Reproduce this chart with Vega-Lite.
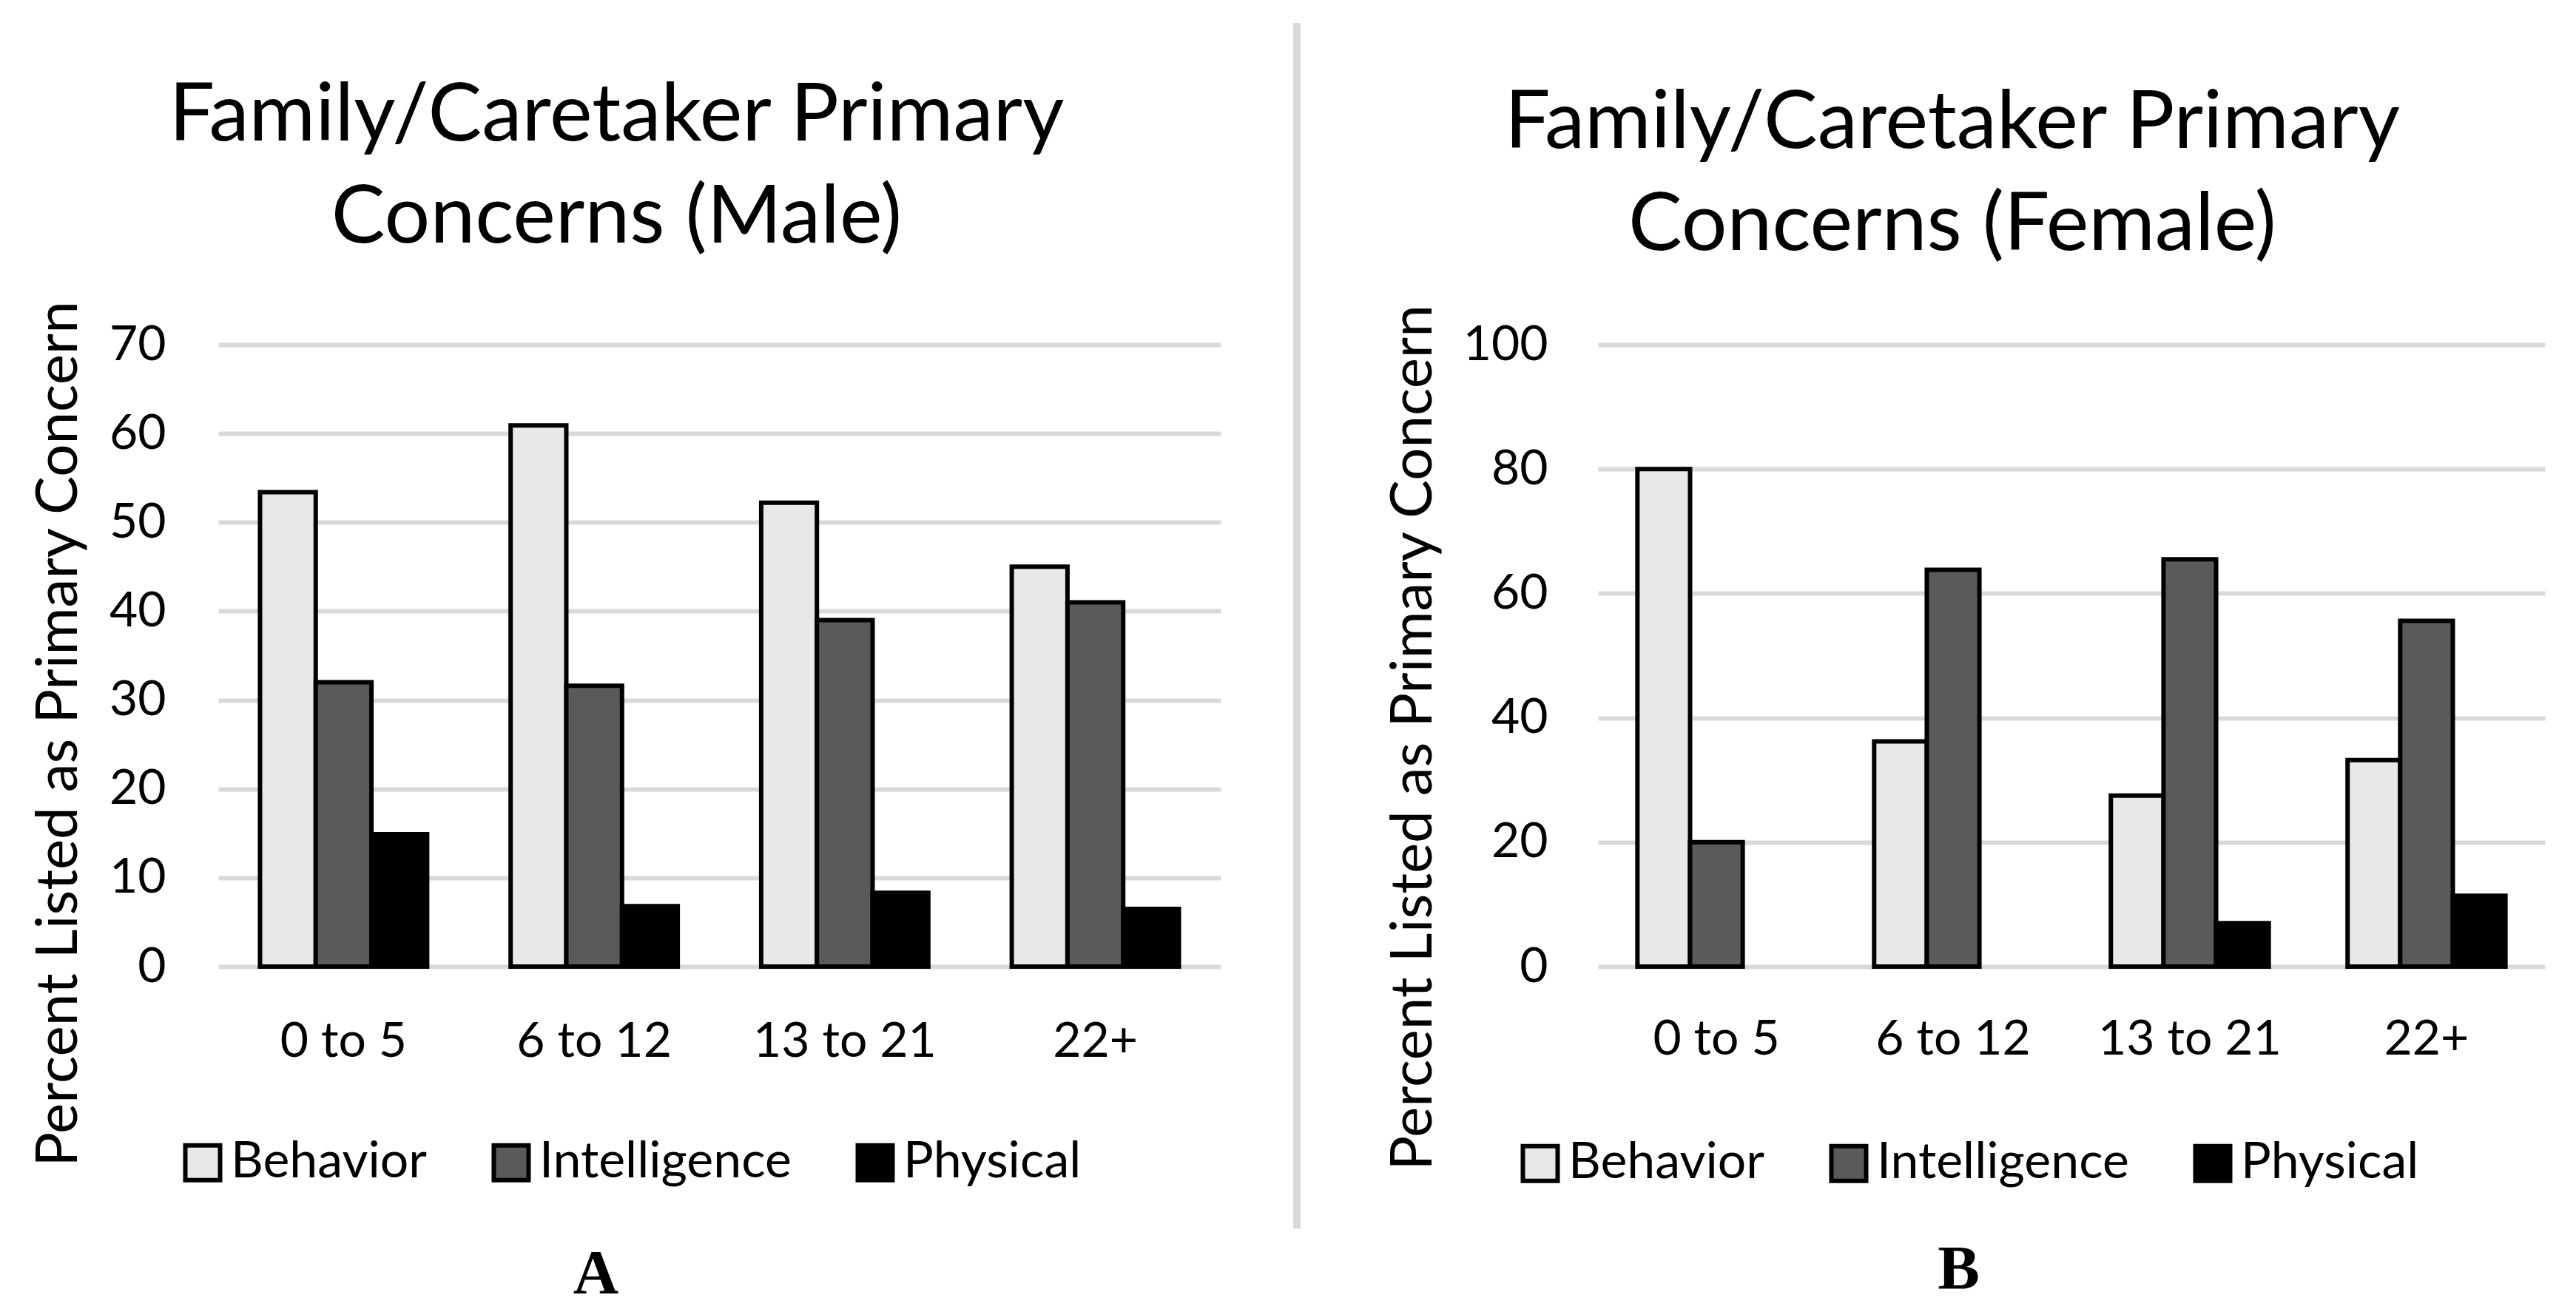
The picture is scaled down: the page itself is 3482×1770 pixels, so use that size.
{
  "$schema": "https://vega.github.io/schema/vega-lite/v6.json",
  "background": "white",
  "padding": {"left": 40, "top": 26, "right": 20, "bottom": 10},
  "config": {
    "view": {"stroke": null},
    "font": "Lato",
    "axis": {"labelFont": "Lato", "titleFont": "Lato", "labelColor": "black", "titleColor": "black", "ticks": false, "domain": false, "titleFontWeight": "normal", "labelLimit": 600},
    "title": {"font": "Lato", "fontWeight": "normal", "color": "black"},
    "legend": {"labelFont": "Lato", "labelColor": "black", "labelLimit": 600}
  },
  "datasets": {
    "male": [
      {"age": "0 to 5", "concern": "Behavior", "percent": 53.4},
      {"age": "0 to 5", "concern": "Intelligence", "percent": 32.0},
      {"age": "0 to 5", "concern": "Physical", "percent": 14.9},
      {"age": "6 to 12", "concern": "Behavior", "percent": 60.9},
      {"age": "6 to 12", "concern": "Intelligence", "percent": 31.6},
      {"age": "6 to 12", "concern": "Physical", "percent": 6.8},
      {"age": "13 to 21", "concern": "Behavior", "percent": 52.2},
      {"age": "13 to 21", "concern": "Intelligence", "percent": 39.0},
      {"age": "13 to 21", "concern": "Physical", "percent": 8.3},
      {"age": "22+", "concern": "Behavior", "percent": 45.0},
      {"age": "22+", "concern": "Intelligence", "percent": 41.0},
      {"age": "22+", "concern": "Physical", "percent": 6.5}
    ],
    "female": [
      {"age": "0 to 5", "concern": "Behavior", "percent": 80.0},
      {"age": "0 to 5", "concern": "Intelligence", "percent": 20.0},
      {"age": "6 to 12", "concern": "Behavior", "percent": 36.2},
      {"age": "6 to 12", "concern": "Intelligence", "percent": 63.8},
      {"age": "13 to 21", "concern": "Behavior", "percent": 27.5},
      {"age": "13 to 21", "concern": "Intelligence", "percent": 65.5},
      {"age": "13 to 21", "concern": "Physical", "percent": 7.0},
      {"age": "22+", "concern": "Behavior", "percent": 33.2},
      {"age": "22+", "concern": "Intelligence", "percent": 55.6},
      {"age": "22+", "concern": "Physical", "percent": 11.4}
    ]
  },
  "resolve": {
    "scale": {"x": "independent", "y": "independent", "fill": "independent", "xOffset": "independent"},
    "legend": {"fill": "independent"}
  },
  "spacing": 88,
  "hconcat": [
    {
      "data": {"name": "male"},
      "width": 1355,
      "height": 841,
      "title": {"text": ["Family/Caretaker Primary", "Concerns (Male)"], "fontSize": 109, "lineHeight": 138, "dx": -139, "offset": 55, "anchor": "middle"},
      "mark": {"type": "bar", "stroke": "black", "strokeWidth": 6},
      "encoding": {
        "x": {"field": "age", "type": "nominal", "sort": ["0 to 5", "6 to 12", "13 to 21", "22+"],
          "scale": {"paddingInner": 0.333, "paddingOuter": 0.1667},
          "axis": {"title": "A", "labelAngle": 0, "labelFontSize": 66, "labelPadding": 69, "titleFont": "Liberation Serif", "titleFontWeight": "bold", "titleFontSize": 85, "titleX": 510, "titleY": 441, "titleBaseline": "alphabetic", "titleAlign": "center"}},
        "xOffset": {"field": "concern", "type": "nominal", "sort": ["Behavior", "Intelligence", "Physical"], "scale": {"domain": ["Behavior", "Intelligence", "Physical"]}},
        "y": {"field": "percent", "type": "quantitative", "scale": {"domain": [0, 70]},
          "axis": {"values": [0, 10, 20, 30, 40, 50, 60, 70], "grid": true, "gridColor": "#d9d9d9", "gridWidth": 6, "labelFontSize": 66, "labelPadding": 71,
            "title": "Percent Listed as Primary Concern", "titleFontSize": 78, "titleX": -192, "titleY": 526, "titleAngle": 270, "titleBaseline": "alphabetic", "titleAlign": "center"}},
        "fill": {"field": "concern", "type": "nominal",
          "scale": {"domain": ["Behavior", "Intelligence", "Physical"], "range": ["#e8e8e8", "#5a5a5a", "#000000"]},
          "legend": {"title": null, "orient": "none", "direction": "horizontal", "legendX": -55, "legendY": 1072, "padding": 0,
            "symbolType": "square", "symbolSize": 2209, "symbolStrokeColor": "black", "symbolStrokeWidth": 6,
            "labelFontSize": 68, "labelOffset": 4, "columnPadding": 77}}
      }
    },
    {
      "data": {"values": [{"sep": 1}]},
      "width": 45,
      "height": 841,
      "mark": {"type": "rule", "color": "#d9d9d9", "strokeWidth": 10},
      "encoding": {
        "x": {"datum": 15, "type": "quantitative", "scale": {"domain": [0, 45]}, "axis": null},
        "y": {"datum": -29.5, "type": "quantitative", "scale": {"domain": [0, 70]}, "axis": null},
        "y2": {"datum": 106.2}
      }
    },
    {
      "data": {"name": "female"},
      "width": 1280,
      "height": 841,
      "title": {"text": ["Family/Caretaker Primary", "Concerns (Female)"], "fontSize": 109, "lineHeight": 138, "dx": -161, "offset": 50, "anchor": "middle"},
      "mark": {"type": "bar", "stroke": "black", "strokeWidth": 6},
      "encoding": {
        "x": {"field": "age", "type": "nominal", "sort": ["0 to 5", "6 to 12", "13 to 21", "22+"],
          "scale": {"paddingInner": 0.333, "paddingOuter": 0.1667},
          "axis": {"title": "B", "labelAngle": 0, "labelFontSize": 66, "labelPadding": 66, "titleFont": "Liberation Serif", "titleFontWeight": "bold", "titleFontSize": 85, "titleX": 487, "titleY": 435, "titleBaseline": "alphabetic", "titleAlign": "center"}},
        "xOffset": {"field": "concern", "type": "nominal", "sort": ["Behavior", "Intelligence", "Physical"], "scale": {"domain": ["Behavior", "Intelligence", "Physical"]}},
        "y": {"field": "percent", "type": "quantitative", "scale": {"domain": [0, 100]},
          "axis": {"values": [0, 20, 40, 60, 80, 100], "grid": true, "gridColor": "#d9d9d9", "gridWidth": 6, "labelFontSize": 66, "labelPadding": 68,
            "title": "Percent Listed as Primary Concern", "titleFontSize": 78, "titleX": -226, "titleY": 531, "titleAngle": 270, "titleBaseline": "alphabetic", "titleAlign": "center"}},
        "fill": {"field": "concern", "type": "nominal",
          "scale": {"domain": ["Behavior", "Intelligence", "Physical"], "range": ["#e8e8e8", "#5a5a5a", "#000000"]},
          "legend": {"title": null, "orient": "none", "direction": "horizontal", "legendX": -112, "legendY": 1073, "padding": 0,
            "symbolType": "square", "symbolSize": 2209, "symbolStrokeColor": "black", "symbolStrokeWidth": 6,
            "labelFontSize": 68, "labelOffset": 4, "columnPadding": 77}}
      }
    }
  ]
}
